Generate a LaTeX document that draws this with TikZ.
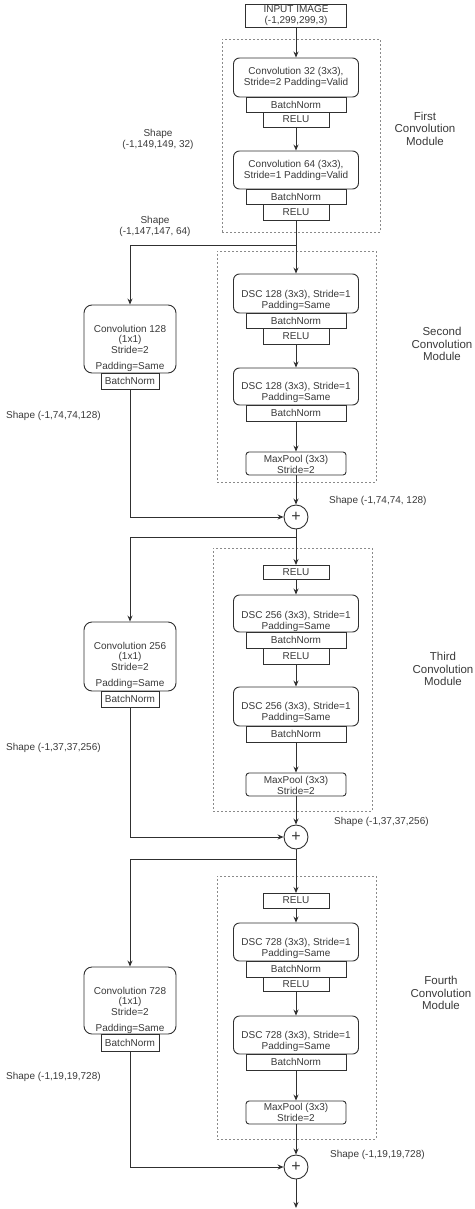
\documentclass[tikz,border=0pt]{standalone}
\usepackage{fontspec}
\setmainfont{Liberation Sans}
\usetikzlibrary{fit,arrows.meta}
\definecolor{lnc}{HTML}{303030}
\definecolor{tx}{HTML}{3A3A3A}
\definecolor{dsh}{HTML}{8A8A8A}
\begin{document}
\begin{tikzpicture}[x=1pt,y=-1pt,
 every node/.style={text=tx, font=\fontsize{10}{11}\selectfont},
 rb/.style={draw=lnc, line width=0.9pt, rounded corners=6pt, inner sep=0pt, fill=white},
 sb/.style={draw=lnc, line width=0.9pt, inner sep=0pt, outer sep=0pt, fill=white, align=center},
 bnw/.style={sb, minimum width=100pt},
 rlw/.style={sb, minimum width=66pt},
 lbw/.style={sb, minimum width=58pt},
 modbox/.style={draw=dsh, line width=0.8pt, dash pattern=on 2pt off 2pt, inner sep=0pt},
 arr/.style={draw=lnc, line width=0.9pt, -{Stealth[length=6pt,width=5pt]}},
 wire/.style={draw=lnc, line width=0.9pt},
 modlbl/.style={font=\fontsize{11.5}{12.6}\selectfont, align=center, inner sep=0pt},
 txt/.style={align=center, inner sep=0pt},
 lctxt/.style={align=center, inner sep=0pt, font=\fontsize{10}{10.3}\selectfont},
 plus/.style={draw=lnc, line width=0.9pt, circle, minimum size=24pt, inner sep=0pt, fill=white, font=\fontsize{16}{16}\selectfont},
]
\useasboundingbox (0,0) rectangle (474,1209);

% ---------- module frames ----------
\node[modbox, fit={(222,39) (380,232)}] (m1) {};
\node[modbox, fit={(217,251) (376,482)}] (m2) {};
\node[modbox, fit={(213,548) (372,811)}] (m3) {};
\node[modbox, fit={(217,876) (376,1139)}] (m4) {};

% ---------- input ----------
\node[sb, minimum width=101pt, minimum height=23pt] (inp) at (296,15.5) {INPUT IMAGE\\(-1,299,299,3)};

% ---------- first module ----------
\node[rb, fit={(233.5,58) (358.5,97)}] (c32) {};
\node[txt] (c32t) at (296,77.5) {Convolution 32 (3x3),\\Stride=2 Padding=Valid};
\node[bnw, minimum height=15pt] (bn1) at (296,104.5) {BatchNorm};
\node[rlw, minimum height=15pt] (r1) at (296,119.5) {RELU};
\node[rb, fit={(233.5,151) (358.5,189)}] (c64) {};
\node[txt] (c64t) at (296,170) {Convolution 64 (3x3),\\Stride=1 Padding=Valid};
\node[bnw, minimum height=15pt] (bn2) at (296,196.5) {BatchNorm};
\node[rlw, minimum height=16pt] (r2) at (296,212) {RELU};
\node[modlbl] (l1) at (425,128.5) {First\\Convolution\\Module};
\node[txt] (s1) at (158,139.5) {Shape\\(-1,149,149, 32)};
\node[txt] (s2) at (155,226.5) {Shape\\(-1,147,147, 64)};

% ---------- second module ----------
\node[rb, fit={(233.5,274) (358.5,313)}] (d1) {};
\node[txt] (d1t) at (296,300) {DSC 128 (3x3), Stride=1\\Padding=Same};
\node[bnw, minimum height=15pt] (bn3) at (296,320.5) {BatchNorm};
\node[rlw, minimum height=16pt] (r3) at (296,336) {RELU};
\node[rb, fit={(233.5,368) (358.5,405)}] (d2) {};
\node[txt] (d2t) at (296,392.5) {DSC 128 (3x3), Stride=1\\Padding=Same};
\node[bnw, minimum height=16pt] (bn4) at (296,413) {BatchNorm};
\node[rb, rounded corners=3pt, fit={(246,452) (346,475)}] (mp1) {};
\node[txt] (mp1t) at (296,464) {MaxPool (3x3)\\Stride=2};
\node[plus] (p1) at (296,517) {+};
\node[txt, anchor=west] (s3) at (329,501) {Shape (-1,74,74, 128)};
\node[modlbl] (l2) at (442,344) {Second\\Convolution\\Module};

\node[rb, rounded corners=8pt, fit={(84,305) (176,373)}] (lc1) {};
\node[lctxt] (lc1t) at (130,348.7) {Convolution 128\\(1x1)\\Stride=2\\[6.5pt]Padding=Same};
\node[lbw, minimum height=16pt] (lb1) at (130,381) {BatchNorm};
\node[txt, anchor=west] (s4) at (6,416) {Shape (-1,74,74,128)};

% ---------- third module ----------
\node[rlw, minimum height=14pt] (r4) at (296,572) {RELU};
\node[rb, fit={(233.5,595) (358.5,632)}] (d3) {};
\node[txt] (d3t) at (296,621) {DSC 256 (3x3), Stride=1\\Padding=Same};
\node[bnw, minimum height=16pt] (bn5) at (296,640) {BatchNorm};
\node[rlw, minimum height=16pt] (r5) at (296,656) {RELU};
\node[rb, fit={(233.5,687) (358.5,726)}] (d4) {};
\node[txt] (d4t) at (296,712.5) {DSC 256 (3x3), Stride=1\\Padding=Same};
\node[bnw, minimum height=16pt] (bn6) at (296,734) {BatchNorm};
\node[rb, rounded corners=3pt, fit={(246,773) (346,796)}] (mp2) {};
\node[txt] (mp2t) at (296,785) {MaxPool (3x3)\\Stride=2};
\node[plus] (p2) at (296,837) {+};
\node[txt, anchor=west] (s5) at (334,822) {Shape (-1,37,37,256)};
\node[modlbl] (l3) at (443,669) {Third\\Convolution\\Module};

\node[rb, rounded corners=8pt, fit={(84,622) (176,691)}] (lc2) {};
\node[lctxt] (lc2t) at (130,665.7) {Convolution 256\\(1x1)\\Stride=2\\[6.5pt]Padding=Same};
\node[lbw, minimum height=16pt] (lb2) at (130,699) {BatchNorm};
\node[txt, anchor=west] (s6) at (6,748) {Shape (-1,37,37,256)};

% ---------- fourth module ----------
\node[rlw, minimum height=15pt] (r6) at (296,900.5) {RELU};
\node[rb, fit={(233.5,923) (358.5,961)}] (d5) {};
\node[txt] (d5t) at (296,948) {DSC 728 (3x3), Stride=1\\Padding=Same};
\node[bnw, minimum height=16pt] (bn7) at (296,969) {BatchNorm};
\node[rlw, minimum height=14pt] (r7) at (296,984) {RELU};
\node[rb, fit={(233.5,1016) (358.5,1054)}] (d6) {};
\node[txt] (d6t) at (296,1041) {DSC 728 (3x3), Stride=1\\Padding=Same};
\node[bnw, minimum height=16pt] (bn8) at (296,1062) {BatchNorm};
\node[rb, rounded corners=3pt, fit={(246,1101) (346,1124)}] (mp3) {};
\node[txt] (mp3t) at (296,1112.5) {MaxPool (3x3)\\Stride=2};
\node[plus] (p3) at (296,1167) {+};
\node[txt, anchor=west] (s7) at (330,1155) {Shape (-1,19,19,728)};
\node[modlbl] (l4) at (441,993) {Fourth\\Convolution\\Module};

\node[rb, rounded corners=8pt, fit={(84,967) (176,1034)}] (lc3) {};
\node[lctxt] (lc3t) at (130,1010.7) {Convolution 728\\(1x1)\\Stride=2\\[6.5pt]Padding=Same};
\node[lbw, minimum height=17pt] (lb3) at (130,1042.5) {BatchNorm};
\node[txt, anchor=west] (s8) at (6,1077) {Shape (-1,19,19,728)};

% ---------- connectors ----------
\coordinate (b1) at (296,245);
\coordinate (b2) at (296,537);
\coordinate (b3) at (296,859);
\coordinate (out) at (296,1208);

\draw[arr] (inp) -- (c32);
\draw[arr] (r1) -- (c64);
\draw[wire] (r2) -- (b1);
\draw[arr] (b1) -- (d1);
\draw[arr] (b1) -| (lc1);
\draw[arr] (r3) -- (d2);
\draw[arr] (bn4) -- (mp1);
\draw[arr] (mp1) -- (p1);
\draw[arr] (lb1) |- (p1);

\draw[wire] (p1) -- (b2);
\draw[arr] (b2) -- (r4);
\draw[arr] (b2) -| (lc2);
\draw[arr] (r4) -- (d3);
\draw[arr] (r5) -- (d4);
\draw[arr] (bn6) -- (mp2);
\draw[arr] (mp2) -- (p2);
\draw[arr] (lb2) |- (p2);

\draw[wire] (p2) -- (b3);
\draw[arr] (b3) -- (r6);
\draw[arr] (b3) -| (lc3);
\draw[arr] (r6) -- (d5);
\draw[arr] (r7) -- (d6);
\draw[arr] (bn8) -- (mp3);
\draw[arr] (mp3) -- (p3);
\draw[arr] (lb3) |- (p3);
\draw[arr] (p3) -- (out);
\end{tikzpicture}
\end{document}
